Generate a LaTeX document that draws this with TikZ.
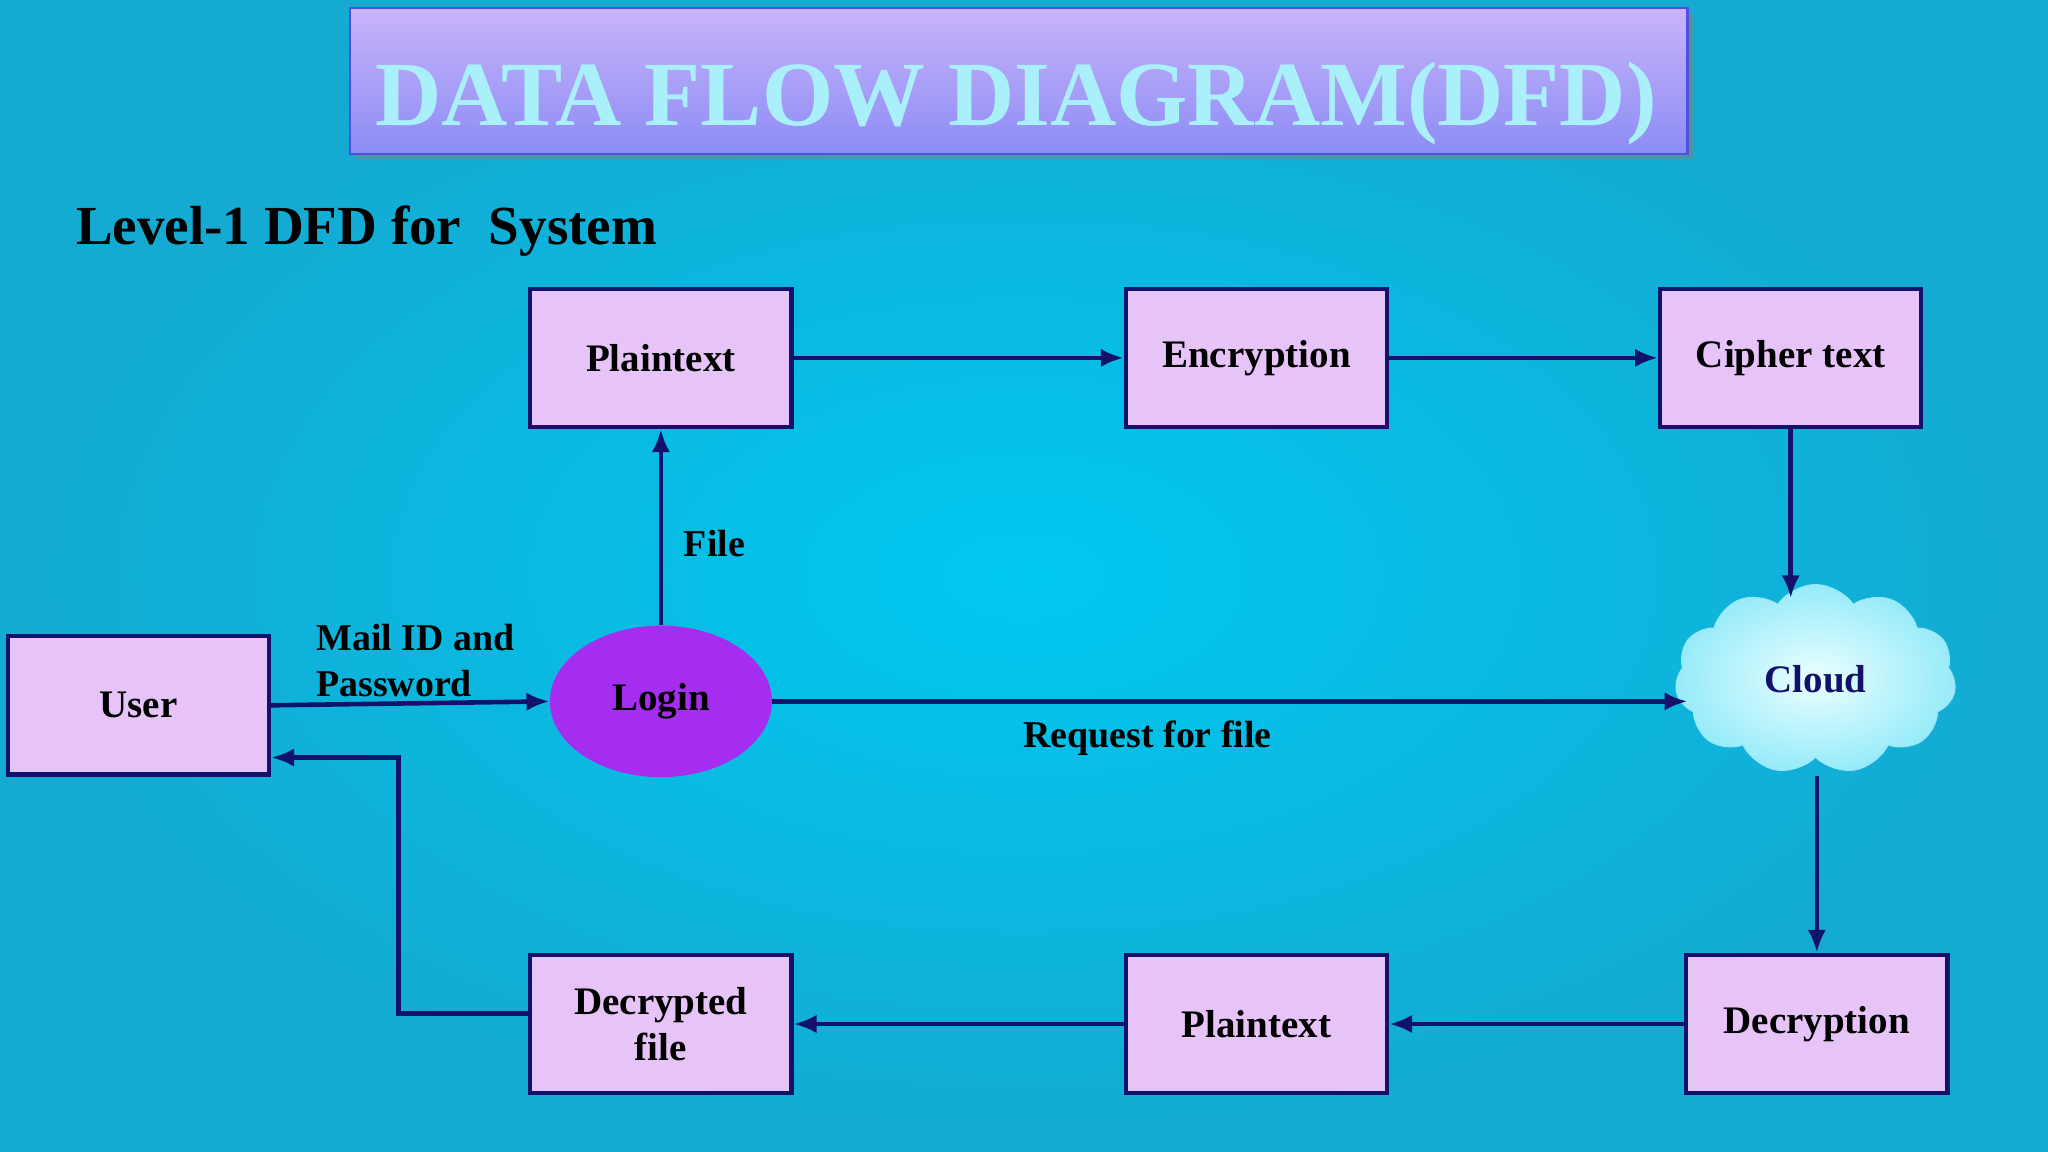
\documentclass[tikz,border=0pt]{standalone}
\usepackage{fontspec}
\setmainfont{Liberation Serif}
\usetikzlibrary{shapes.symbols,shapes.geometric,arrows.meta,shadows}
\definecolor{navy}{HTML}{12126A}
\definecolor{boxfill}{HTML}{E6C4F8}
\begin{document}
\begin{tikzpicture}[x=0.02cm,y=-0.02cm,
  box/.style={draw=navy,line width=1.8pt,fill=boxfill,minimum width=200*0.02cm,minimum height=106*0.02cm,align=center,font=\fontsize{17}{20}\selectfont\bfseries,inner sep=0pt},
  arr/.style={draw=navy,line width=2pt,-{Latex[length=10pt,width=8pt]}},
  lab/.style={font=\fontsize{16.5}{20}\selectfont\bfseries,align=left}]
\shade[inner color={rgb,255:red,0;green,200;blue,240}, outer color={rgb,255:red,20;green,170;blue,210}] (0,0) rectangle (1568,882);
\useasboundingbox (0,0) rectangle (1568,882);
% title
\node[draw={rgb,255:red,80;green,80;blue,220},line width=1pt,top color={rgb,255:red,200;green,180;blue,250},bottom color={rgb,255:red,140;green,140;blue,245},minimum width=1024*0.02cm,minimum height=112*0.02cm,inner sep=0pt,drop shadow] (title) at (780,62) {};
\node[text={rgb,255:red,170;green,240;blue,250},font=\fontsize{40}{46}\selectfont\bfseries,inner sep=0pt] (ttext) at (778,79) {DATA FLOW DIAGRAM(DFD)};
\node[anchor=west,font=\fontsize{24}{28}\selectfont\bfseries] (lvl) at (52,177) {Level-1 DFD for\ \ System};
% nodes
\node[box] (pt1) at (506,274) {Plaintext};
\node[box] (enc) at (962,274) {\strut Encryption};
\node[box] (ct) at (1371,274) {\strut Cipher text};
\node[box] (user) at (106,540) {User};
\node[ellipse,fill={rgb,255:red,165;green,45;blue,240},minimum width=170*0.02cm,minimum height=116*0.02cm,font=\fontsize{17}{20}\selectfont\bfseries] (login) at (506,537) {Login};
\node[cloud,cloud puffs=11,cloud puff arc=110,aspect=1.5,inner color={rgb,255:red,235;green,255;blue,255},outer color={rgb,255:red,150;green,235;blue,250},draw={rgb,255:red,150;green,230;blue,245},minimum width=215*0.02cm,minimum height=145*0.02cm,font=\fontsize{17}{20}\selectfont\bfseries,text=navy] (cloud) at (1390,520) {Cloud};
\node[box] (dec) at (506,784) {Decrypted\\file};
\node[box] (pt2) at (962,784) {Plaintext};
\node[box] (dcr) at (1391,784) {\strut Decryption};
% edges
\draw[arr] (pt1) -- (enc);
\draw[arr] (enc) -- (ct);
\draw[arr] (ct.south) -- (1371,458);
\draw[arr] (login) -- (pt1);
\node[lab] (file) at (547,416) {File};
\draw[arr] (user.east) -- (login.west);
\node[lab,anchor=south west] (mail) at (236,540) {Mail ID and\\Password};
\draw[arr] (login.east) -- node[lab,below=4pt,pos=0.41]{Request for file} (1292,537);
\draw[arr] (1391,594) -- (dcr.north);
\draw[arr] (dcr) -- (pt2);
\draw[arr] (pt2) -- (dec);
\coordinate (c1) at (305,776);
\coordinate (c2) at (305,580);
\draw[arr] (dec.west |- c1) -- (c1) -- (c2) -- (user.east |- c2);
\end{tikzpicture}
\end{document}
